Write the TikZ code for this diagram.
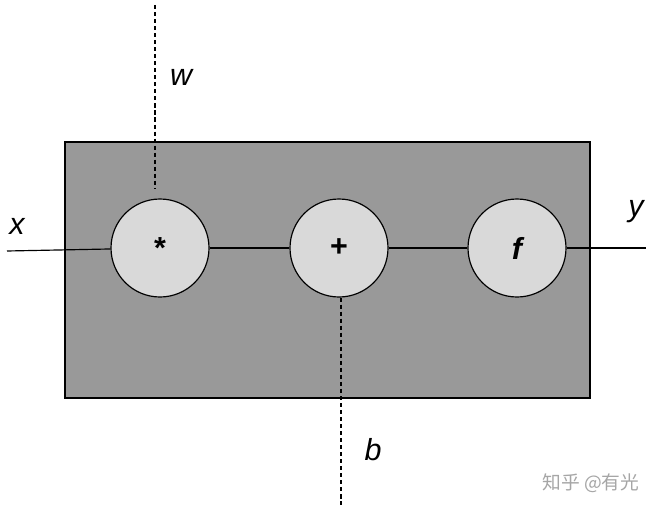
\documentclass[tikz,border=0pt]{standalone}
\usepackage{fontspec}
\setmainfont{Liberation Sans}
\newfontfamily\cjk{Noto Sans CJK SC}
\begin{document}
\begin{tikzpicture}[x=0.03cm,y=-0.03cm,line width=1pt,
  op/.style={circle,draw,fill=gray!30,minimum size=98*0.03cm,inner sep=0pt,font=\bfseries\fontsize{26}{30}\selectfont},
  lab/.style={font=\itshape\fontsize{26}{30}\selectfont},
  wire/.style={},
  dash line/.style={dash pattern=on 3.5pt off 2.5pt}]
\useasboundingbox (0,0) rectangle (657,511);
\fill[white] (0,0) rectangle (657,511);
\draw[fill=gray!80] (65,142) rectangle (590,398);
\node[op] (m) at (160,248) {*};
\node[op] (p) at (339,248) {+};
\node[op] (f) at (517,248) {\itshape f};
\coordinate (xin) at (7,251);
\coordinate (yout) at (646,248);
\coordinate (wtop) at (155,5);
\coordinate (wend) at (155,188);
\coordinate (bend) at (341,505);
\draw[wire] (xin) -- (m);
\draw[wire] (m) -- (p);
\draw[wire] (p) -- (f);
\draw[wire] (f) -- (yout);
\draw[dash line] (wtop) -- (wend);
\draw[dash line] (p.south) ++(2,0) -- (bend);
\node[lab] (lx) at (17,226) {x};
\node[lab] (lw) at (181,77) {w};
\node[lab] (ly) at (636,212) {y};
\node[lab] (lb) at (373,450) {b};
\node[font=\cjk\fontsize{16}{19}\selectfont,text=gray!70] (wm) at (591,483) {知乎 @有光};
\end{tikzpicture}
\end{document}
